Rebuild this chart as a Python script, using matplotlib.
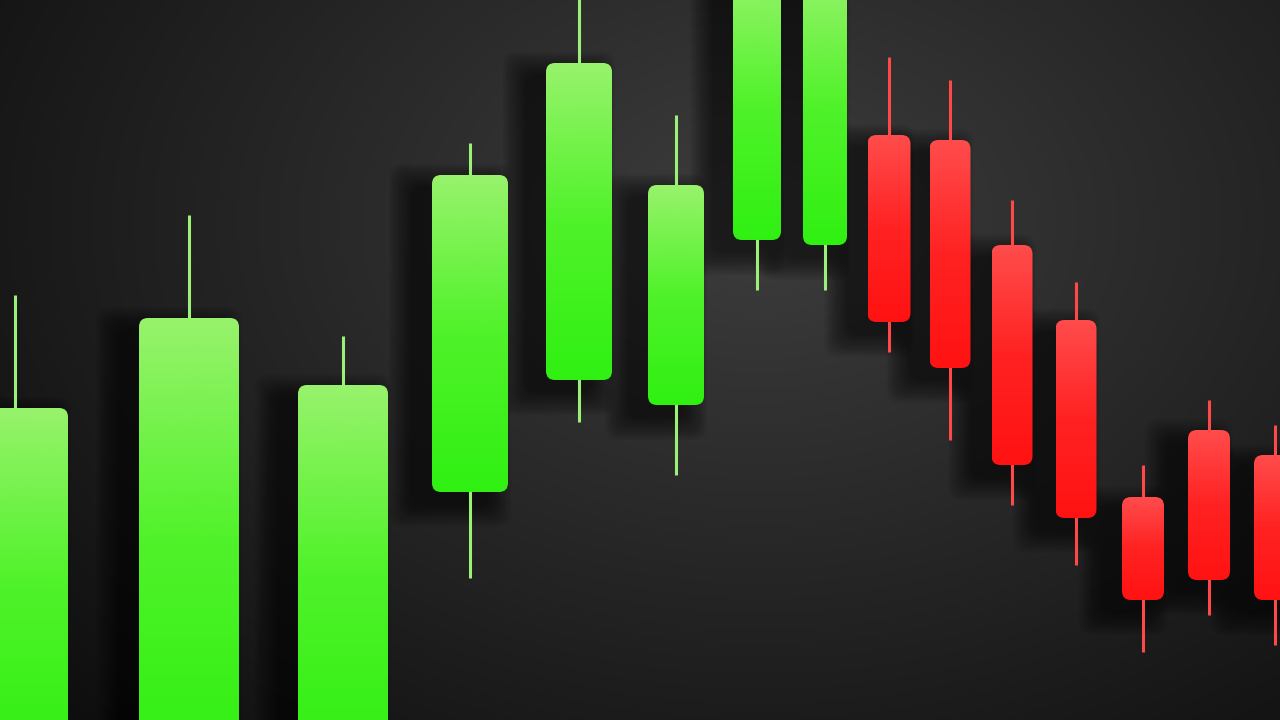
import numpy as np
import matplotlib.pyplot as plt
from matplotlib.patches import FancyBboxPatch
from matplotlib.colors import LinearSegmentedColormap

# candle data (x = time position, prices)
x_pos = [15, 189, 343, 470, 579, 676, 757, 825, 889, 950, 1012, 1076, 1143, 1209, 1275]
opens = [-40, -40, -40, 228, 340, 315, 480, 475, 585, 580, 475, 400, 223, 290, 265]
closes = [312, 402, 335, 545, 657, 535, 750, 750, 398, 352, 255, 202, 120, 140, 120]
highs = [425, 505, 384, 577, 725, 605, 750, 750, 663, 640, 520, 438, 255, 320, 295]
lows = [-40, -40, -40, 142, 298, 245, 430, 430, 368, 280, 215, 155, 68, 105, 75]

# candles shrink with perspective
widths = [106, 100, 90, 76, 66, 56, 48, 44, 43, 41, 41, 41, 42, 42, 42]

fig = plt.figure(figsize=(12.8, 7.2), dpi=100)
ax = fig.add_axes([0, 0, 1, 1])
ax.set_xlim(0, 1280)
ax.set_ylim(0, 720)
ax.axis('off')

# dark vignette background
yy, xx = np.mgrid[0:720, 0:1280]
d = np.sqrt(((xx - 760) / 900) ** 2 + ((yy - 220) / 650) ** 2)
bg = np.clip(0.24 - 0.17 * d, 0.04, 0.25)
ax.imshow(np.dstack([bg, bg, bg]), extent=[0, 1280, 0, 720], origin='upper',
          aspect='auto', zorder=0)

green_cmap = LinearSegmentedColormap.from_list('g', ['#30f012', '#50f22a', '#98f26c'])
red_cmap = LinearSegmentedColormap.from_list('r', ['#ff1212', '#ff2222', '#ff4c4c'])

for i in range(len(x_pos)):
    o, c, h, l = opens[i], closes[i], highs[i], lows[i]
    w = widths[i]
    x = x_pos[i]
    up = c >= o
    lo, hi = min(o, c), max(o, c)

    # soft shadow to the lower left
    for k in range(12):
        pad = 2 + k * 4
        sh = FancyBboxPatch((x - w / 2 - 20 - pad / 2, lo - 12 - pad / 2), w + pad, hi - lo + pad,
                            boxstyle='round,pad=0,rounding_size=14',
                            fc='black', ec='none', alpha=0.055, zorder=1)
        ax.add_patch(sh)

    wick_col = '#9cf07a' if up else '#ff4848'
    ax.plot([x, x], [l, h], color=wick_col, lw=2.2, zorder=2, solid_capstyle='butt')

    body = FancyBboxPatch((x - w / 2, lo), w, hi - lo,
                          boxstyle='round,pad=0,rounding_size=9',
                          fc='none', ec='none', zorder=3)
    ax.add_patch(body)
    grad = np.linspace(0, 1, 256).reshape(-1, 1)
    im = ax.imshow(grad, extent=[x - w / 2, x + w / 2, lo, hi], origin='lower',
                   cmap=green_cmap if up else red_cmap, aspect='auto', zorder=3)
    im.set_clip_path(body)

fig.savefig('out.png', dpi=100)
